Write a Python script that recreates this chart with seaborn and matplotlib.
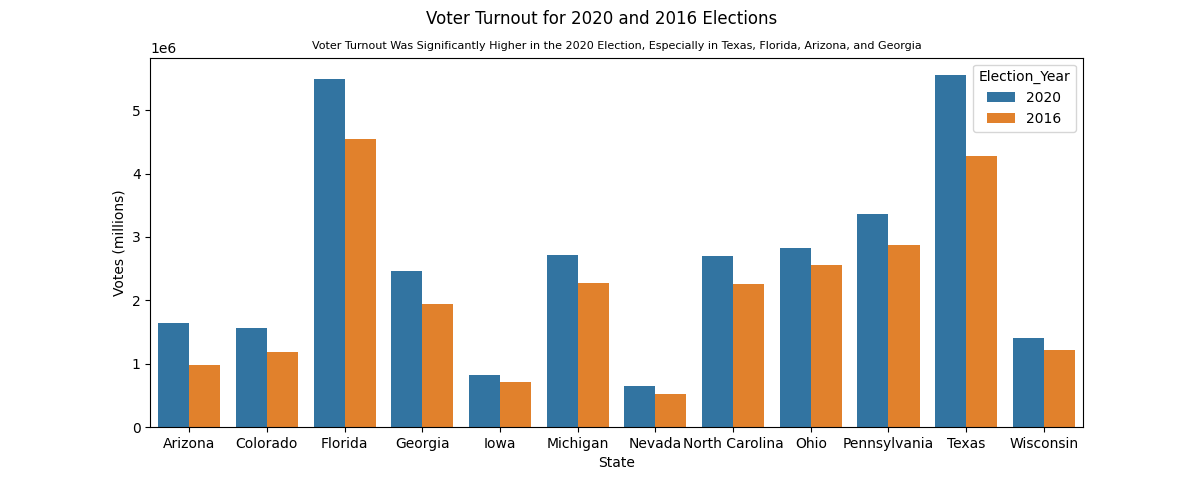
import matplotlib
matplotlib.use("Agg")
import matplotlib.pyplot as plt
import seaborn as sns
import pandas as pd

states = ["Arizona", "Colorado", "Florida", "Georgia", "Iowa", "Michigan", "Nevada",
          "North Carolina", "Ohio", "Pennsylvania", "Texas", "Wisconsin"]
votes_2020 = [1.65e6, 1.57e6, 5.49e6, 2.47e6, 0.83e6, 2.72e6, 0.645e6,
              2.70e6, 2.83e6, 3.36e6, 5.55e6, 1.40e6]
votes_2016 = [0.975e6, 1.18e6, 4.54e6, 1.95e6, 0.72e6, 2.28e6, 0.52e6,
              2.25e6, 2.55e6, 2.88e6, 4.28e6, 1.21e6]
years = ["2020", "2016"]

df = pd.DataFrame({
    "State": states * 2,
    "Votes": votes_2020 + votes_2016,
    "Election_Year": [years[0]] * len(states) + [years[1]] * len(states),
})

fig, ax = plt.subplots(figsize=(12.03, 4.8), dpi=100)
sns.barplot(data=df, x="State", y="Votes", hue="Election_Year", ax=ax)
fig.suptitle("Voter Turnout for 2020 and 2016 Elections")
ax.set_title("Voter Turnout Was Significantly Higher in the 2020 Election, Especially in Texas, Florida, Arizona, and Georgia",
             fontsize=8)
ax.set_ylabel("Votes (millions)")
ax.set_xlabel("State")
fig.savefig("out.png", dpi=100)
